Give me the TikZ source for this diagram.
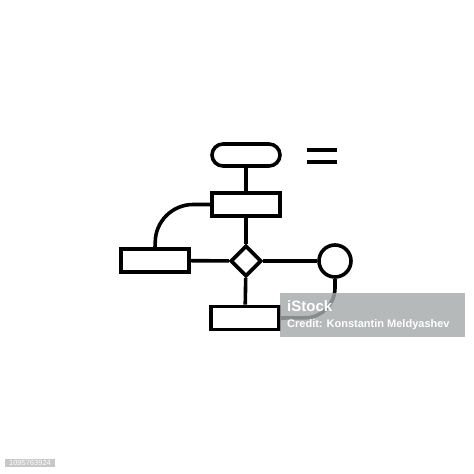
\documentclass[tikz,border=0pt]{standalone}
\usepackage{fontspec}
\setsansfont{Liberation Sans}
\usepackage{tikz}
\usetikzlibrary{calc,shapes.geometric}
\definecolor{wmgray}{RGB}{165,170,170}
\definecolor{idgray}{RGB}{200,200,200}
\tikzset{
	fl/.style={draw=black, line width=3.6pt},
	procbox/.style={fl, rectangle, minimum width=68pt, minimum height=23pt, inner sep=0pt},
	termbox/.style={procbox, minimum height=22pt, rounded corners=11pt},
	decbox/.style={fl, diamond, aspect=1, minimum width=31pt, minimum height=31pt, inner sep=0pt},
	endbox/.style={fl, circle, minimum size=32pt, inner sep=0pt},
	link/.style={line width=3.6pt}
}

\begin{document}
\begin{tikzpicture}[x=1pt, y=1pt]
		%%%%% START %%%%%
		\useasboundingbox[fill=white] (0, 0) rectangle (474, 474);
		
		\node[termbox] (term) at (246, 319) {};
		\node[procbox] (proc) at (246, 269.5) {};
		\node[procbox] (side) at (155, 213.5) {};
		\node[decbox] (dia) at (246, 213) {};
		\node[endbox] (circ) at (335, 213) {};
		\node[procbox] (bot) at (245, 156) {};
		
		\draw[link] (term) -- (proc);
		\draw[link] (proc) -- (dia);
		\draw[link] (dia) -- (bot);
		\draw[link] (side) -- (dia);
		\draw[link] (dia) -- (circ);
		\draw[link] (proc.west) -- ++(-17, 0) arc[start angle=90, end angle=180, radius=38pt] -- (side.north);
		\draw[link] (circ.south) -- ++(0, -9) arc[start angle=0, end angle=-90, radius=30pt] -- (bot.east);
		
		% equals sign
		\draw[link] (307, 324) -- (337, 324);
		\draw[link] (307, 312) -- (337, 312);
		
		% stock marks
		\fill[wmgray, fill opacity=0.82] (280, 137) rectangle (465, 181);
		\node[anchor=west, inner sep=0pt, text=white, font=\sffamily\bfseries\fontsize{15}{15}\selectfont] (brand) at (287, 167.5) {iStock};
		\node[anchor=west, inner sep=0pt, text=white, font=\sffamily\bfseries\fontsize{11}{12}\selectfont] (credit) at (287, 149) {Credit: Konstantin Meldyashev};
		\fill[idgray] (5, 7) rectangle (55, 15);
		\node[inner sep=0pt, text=white, font=\sffamily\fontsize{7.5}{8}\selectfont] (imgid) at (30, 11) {1095763924};
		%%%%% END %%%%%
	\end{tikzpicture}
\end{document}
